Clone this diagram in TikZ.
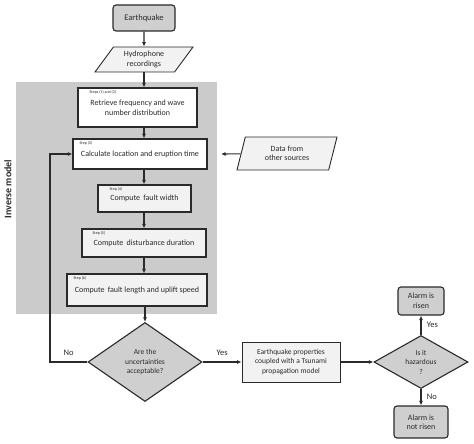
\documentclass[tikz,border=0pt]{standalone}
\usepackage{fontspec}
\setmainfont{Carlito}
\usepackage{tikz}
\usetikzlibrary{shapes.geometric}
\usetikzlibrary{arrows.meta}

\definecolor{panelgray}{HTML}{CBCBCB}
\definecolor{darkfill}{HTML}{CFCFCF}
\definecolor{lightfill}{HTML}{F2F2F2}
\definecolor{edgecol}{HTML}{2A2A2A}

\begin{document}
\begin{tikzpicture}[x=1pt,y=-1pt,
  font=\fontsize{8}{9.5}\selectfont,
  every node/.style={text=edgecol},
  stepbox/.style={draw=edgecol,line width=1.1pt,rectangle,align=center,inner sep=1pt},
  endbox/.style={stepbox,rounded corners=3pt,fill=darkfill},
  databox/.style={trapezium,trapezium stretches body=true,draw=edgecol,line width=0.9pt,fill=lightfill,align=center,inner sep=1pt},
  decision/.style={diamond,draw=edgecol,line width=1.1pt,fill=darkfill,align=center,inner sep=0pt,font=\fontsize{7.5}{9.5}\selectfont},
  steplbl/.style={anchor=north west,inner sep=0pt,font=\fontsize{4}{4.5}\selectfont},
  flow/.style={draw=edgecol,line width=1.1pt,-{Latex[length=4.5pt,width=4pt]}}]
  \useasboundingbox (0,0) rectangle (474,444);
  % grey panel of the inverse model
  \fill[panelgray] (16,82) rectangle (217,314);
  \node[rotate=90,font=\fontsize{10}{12}\selectfont\bfseries] (inv) at (8,189) {Inverse model};

  \node[endbox,minimum width=62pt,minimum height=26pt,font=\fontsize{8.5}{10}\selectfont] (quake) at (144,18) {Earthquake};
  \node[databox,trapezium left angle=45,trapezium right angle=135,minimum width=98pt,minimum height=25pt] (hydro) at (144,59.5) {Hydrophone\\recordings};

  \node[stepbox,fill=white,minimum width=119pt,minimum height=39pt,font=\fontsize{8}{10}\selectfont] (retr) at (137.5,107.5) {Retrieve frequency and wave\\number distribution};
  \node[steplbl] (s12) at ([xshift=12pt,yshift=-3pt]retr.north west) {Steps (1) and (2)};
  \node[stepbox,fill=white,minimum width=134pt,minimum height=30pt] (calc) at (140,154) {Calculate location and eruption time};
  \node[steplbl] (s3) at ([xshift=7pt,yshift=-3pt]calc.north west) {Step (3)};
  \node[stepbox,fill=lightfill,minimum width=93pt,minimum height=27pt] (width) at (144.5,198.5) {Compute\, fault width};
  \node[steplbl] (s4) at ([xshift=12pt,yshift=-3pt]width.north west) {Step (4)};
  \node[stepbox,fill=lightfill,minimum width=124pt,minimum height=28pt] (dist) at (144,243) {Compute\, disturbance duration};
  \node[steplbl] (s5) at ([xshift=11pt,yshift=-3pt]dist.north west) {Step (5)};
  \node[stepbox,fill=lightfill,minimum width=140pt,minimum height=32pt] (length) at (137,290) {Compute\, fault length and uplift speed};
  \node[steplbl] (s6) at ([xshift=7pt,yshift=-3pt]length.north west) {Step (6)};

  \node[databox,trapezium left angle=64,trapezium right angle=116,minimum width=100pt,minimum height=33pt] (other) at (287,153.5) {Data from\\other sources};
  \coordinate (panel) at (221,154);
  \coordinate (spine) at (144,0);

  \node[decision,minimum width=114pt,minimum height=79pt] (accept) at (145,362) {Are the\\uncertainties\\acceptable?};
  \node[stepbox,fill=lightfill,line width=0.9pt,minimum width=98pt,minimum height=40pt,font=\fontsize{7.5}{9.5}\selectfont] (tsunami) at (291,362) {Earthquake properties\\coupled with a Tsunami\\propagation model};
  \node[decision,minimum width=94pt,minimum height=53pt,shape aspect=1.8] (hazard) at (421,362) {Is it\\hazardous\\?};
  \node[endbox,minimum width=46pt,minimum height=28pt] (risen) at (421,301) {Alarm is\\risen};
  \node[endbox,minimum width=54pt,minimum height=32pt] (notrisen) at (421,422) {Alarm is\\not risen};

  \draw[flow] (quake) -- (hydro);
  \draw[flow] (hydro.south -| spine) -- (retr.north -| spine);
  \draw[flow] (retr.south -| spine) -- (calc.north -| spine);
  \draw[flow] (calc.south -| spine) -- (width.north -| spine);
  \draw[flow] (width.south -| spine) -- (dist.north -| spine);
  \draw[flow] (dist.south -| spine) -- (length.north -| spine);
  \draw[flow] (length.south -| accept.north) -- (accept.north);
  \draw[flow] (other) -- (panel);
  \draw[flow] (accept) -- node[above=3pt,font=\fontsize{8.5}{10}\selectfont] (yes1) {Yes} (tsunami);
  \draw[flow] (accept.west) -- node[above=3pt,font=\fontsize{8.5}{10}\selectfont] (no1) {No} (50,362) |- (calc.west);
  \draw[flow] (tsunami) -- (hazard);
  \draw[flow] (hazard) -- node[right=2pt,font=\fontsize{8.5}{10}\selectfont] (yes2) {Yes} (risen);
  \draw[flow] (hazard) -- node[right=2pt,font=\fontsize{8.5}{10}\selectfont] (no2) {No} (notrisen);
\end{tikzpicture}
\end{document}
